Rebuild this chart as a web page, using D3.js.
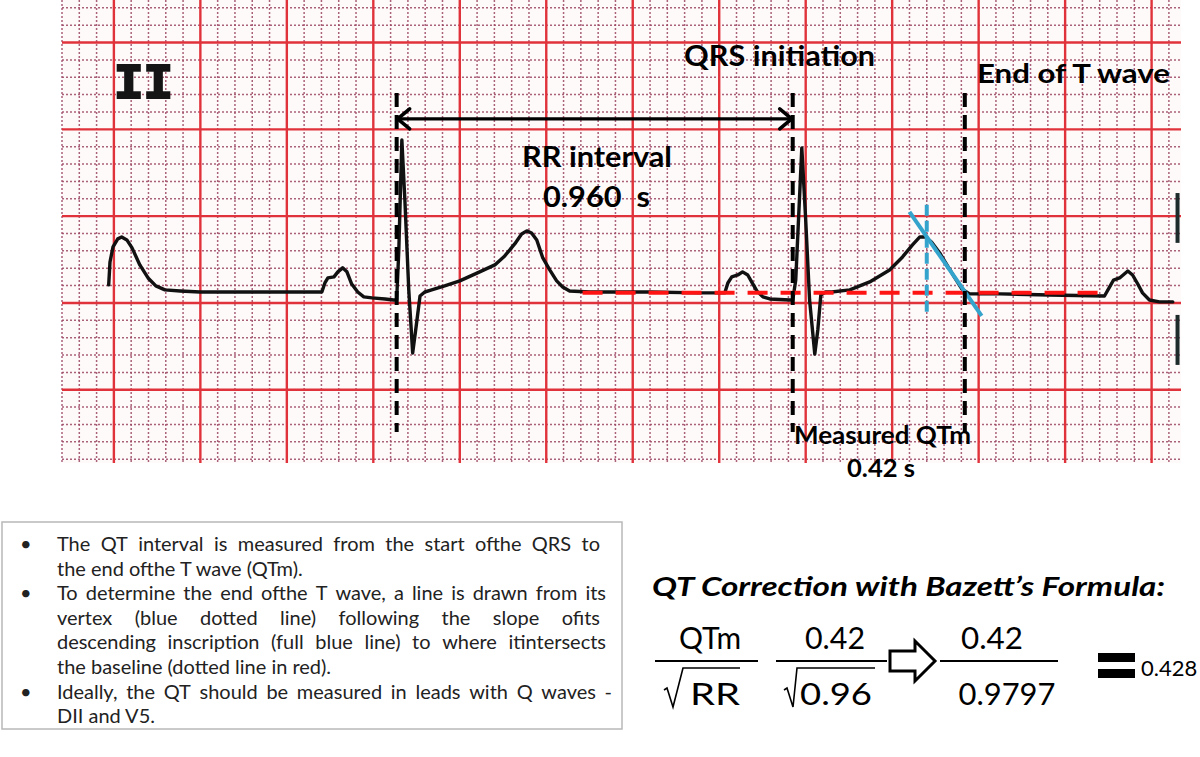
<!DOCTYPE html>
<html><head><meta charset="utf-8">
<script src="https://cdn.jsdelivr.net/npm/d3@7"></script>
<style>body{margin:0;background:#fff;} svg{display:block;}</style>
</head><body>
<svg id="chart" width="1200" height="757"></svg>
<script>
// ---------- DATA (time in seconds, amplitude in mV) ----------
const timeDomain = [-0.12, 2.468];
const mvDomain = [-0.922, 1.745];
const ecgTime = [-0.012,-0.009,-0.002,0.009,0.018,0.030,0.042,0.060,0.079,0.097,0.118,0.153,0.199,0.314,0.430,0.481,0.488,0.495,0.509,0.518,0.529,0.539,0.550,0.564,0.578,0.597,0.627,0.647,
  0.654,0.659,0.666,0.673,0.682,0.691,0.698,0.708,0.719,0.735,
  0.765,0.800,0.846,0.881,0.904,0.927,0.943,0.955,0.966,0.978,0.992,1.008,1.024,1.038,1.054,1.101,1.239,1.355,1.413,1.420,1.429,1.443,1.454,1.466,1.475,1.487,1.501,1.517,1.563,
  1.570,1.577,1.591,1.600,1.609,1.621,1.628,1.635,1.646,1.660,
  1.702,1.748,1.794,1.824,1.847,1.864,1.877,1.891,1.910,1.928,1.945,1.961,1.979,2.049,2.164,2.291,2.303,2.312,2.326,2.345,2.356,2.368,2.379,2.395,2.418,2.449];
const ecgMv = [0.104,0.236,0.323,0.369,0.380,0.363,0.317,0.219,0.144,0.098,0.075,0.069,0.063,0.063,0.063,0.063,0.115,0.144,0.150,0.179,0.202,0.179,0.109,0.063,0.035,0.029,0.023,0.017,
  0.017,0.305,0.939,0.593,0.075,-0.288,-0.156,0.040,0.063,0.075,
  0.098,0.127,0.179,0.219,0.271,0.340,0.397,0.415,0.403,0.363,0.259,0.190,0.127,0.092,0.069,0.063,0.063,0.058,0.058,0.115,0.150,0.161,0.179,0.161,0.121,0.069,0.035,0.023,0.017,
  0.017,0.132,0.893,0.478,0.017,-0.294,-0.156,0.046,0.063,0.063,
  0.075,0.121,0.190,0.265,0.334,0.380,0.380,0.351,0.288,0.213,0.144,0.081,0.052,0.052,0.046,0.040,0.092,0.132,0.144,0.184,0.161,0.109,0.058,0.017,0.006,0.006];

const qrsOnsetTimes = [0.654, 1.570];   // RR interval = 0.960 s
const tWaveEndTime = 1.968;            // QTm = 0.42 s
const markerMvSpan = [1.210, -0.743];
const arrowMv = 1.060;
const baselineMv = 0.058;
const baselineSpan = [1.084, 2.303];
const tApexTime = 1.880;
const tApexMvSpan = [0.565, -0.052];
const tangentTime = [1.840, 2.007];
const tangentMv = [0.524, -0.075];
const calibTime = 2.460;
const calibMv = [[0.633, 0.346], [-0.069, -0.357]];

const leadLabel = "II";
const annotationLabels = ["QRS initiation", "End of T wave", "RR interval", "0.960  s", "Measured QTm", "0.42 s"];
const bulletLines = [
  ["The QT interval is measured from the start ofthe QRS to", true, true],
  ["the end ofthe T wave (QTm).", false, false],
  ["To determine the end ofthe T wave, a line is drawn from its", true, true],
  ["vertex (blue dotted line) following the slope ofits", false, true],
  ["descending inscription (full blue line) to where itintersects", false, true],
  ["the baseline (dotted line in red).", false, false],
  ["Ideally, the QT should be measured in leads with Q waves -", true, true],
  ["DII and V5.", false, false]
];
const formulaTitle = "QT Correction with Bazett\u2019s Formula:";
const formulaNumerators = ["QTm", "0.42", "0.42"];
const formulaDenominators = ["RR", "0.96", "0.9797"];
const formulaResult = "0.428";

// ---------- DRAW ----------
const svg = d3.select("#chart");
const x = d3.scaleLinear().domain(timeDomain).range([62, 1181]);
const y = d3.scaleLinear().domain(mvDomain).range([463, 0]);

// paper
svg.append("rect").attr("x", x(timeDomain[0])).attr("y", y(mvDomain[1]))
  .attr("width", x(timeDomain[1]) - x(timeDomain[0])).attr("height", y(mvDomain[0]) - y(mvDomain[1]))
  .attr("fill", "#fffafa");

const grid = svg.append("g");
const xMinor = d3.range(-3, 62).map(k => ({v: k * 0.04, major: k % 5 === 0}));
const yMinor = d3.range(-9, 18).map(k => ({v: k * 0.1, major: k % 5 === 0}));
const minorColor = "#9c4864";
grid.selectAll(".vm").data(xMinor.filter(d => !d.major)).join("line")
  .attr("x1", d => x(d.v)).attr("x2", d => x(d.v)).attr("y1", y(mvDomain[1])).attr("y2", y(mvDomain[0]))
  .attr("stroke", minorColor).attr("stroke-width", 1.5).attr("stroke-dasharray", "2,2").attr("opacity", 0.85);
grid.selectAll(".hm").data(yMinor.filter(d => !d.major)).join("line")
  .attr("y1", d => y(d.v)).attr("y2", d => y(d.v)).attr("x1", x(timeDomain[0])).attr("x2", x(timeDomain[1]))
  .attr("stroke", minorColor).attr("stroke-width", 1.5).attr("stroke-dasharray", "2,2").attr("opacity", 0.85);
grid.selectAll(".vM").data(xMinor.filter(d => d.major)).join("line")
  .attr("x1", d => x(d.v)).attr("x2", d => x(d.v)).attr("y1", y(mvDomain[1])).attr("y2", y(mvDomain[0]))
  .attr("stroke", "#e0323a").attr("stroke-width", 2.4);
grid.selectAll(".hM").data(yMinor.filter(d => d.major)).join("line")
  .attr("y1", d => y(d.v)).attr("y2", d => y(d.v)).attr("x1", x(timeDomain[0])).attr("x2", x(timeDomain[1]))
  .attr("stroke", "#e0323a").attr("stroke-width", 2.4);

// lead label
svg.append("text").attr("x", 114).attr("y", 98).text(leadLabel)
  .attr("font-family", "Liberation Mono, DejaVu Sans Mono, monospace").attr("font-weight", "bold")
  .attr("font-size", 50).attr("textLength", 59).attr("lengthAdjust", "spacingAndGlyphs")
  .attr("fill", "#151515").attr("stroke", "#151515").attr("stroke-width", 2.2);

// calibration marks on right edge
calibMv.forEach(s => svg.append("line").attr("x1", x(calibTime)).attr("x2", x(calibTime))
  .attr("y1", y(s[0])).attr("y2", y(s[1])).attr("stroke", "#1d2b2b").attr("stroke-width", 4));

// ECG trace
const pts = ecgTime.map((t, i) => [t, ecgMv[i]]);
svg.append("path").datum(pts)
  .attr("d", d3.line().x(d => x(d[0])).y(d => y(d[1])))
  .attr("fill", "none").attr("stroke", "#111").attr("stroke-width", 3.4)
  .attr("stroke-linejoin", "round").attr("stroke-linecap", "round");

// red baseline (dashed)
svg.append("line").attr("x1", x(baselineSpan[0])).attr("x2", x(baselineSpan[1]))
  .attr("y1", y(baselineMv)).attr("y2", y(baselineMv))
  .attr("stroke", "#ff1414").attr("stroke-width", 4).attr("stroke-dasharray", "20,13");

// blue construction lines
svg.append("line").attr("x1", x(tApexTime)).attr("x2", x(tApexTime))
  .attr("y1", y(tApexMvSpan[0])).attr("y2", y(tApexMvSpan[1]))
  .attr("stroke", "#35a4cc").attr("stroke-width", 4).attr("stroke-dasharray", "11,5");
svg.append("line").attr("x1", x(tangentTime[0])).attr("x2", x(tangentTime[1]))
  .attr("y1", y(tangentMv[0])).attr("y2", y(tangentMv[1]))
  .attr("stroke", "#35a4cc").attr("stroke-width", 4);

// vertical black dashed markers
[...qrsOnsetTimes, tWaveEndTime].forEach(t => svg.append("line")
  .attr("x1", x(t)).attr("x2", x(t)).attr("y1", y(markerMvSpan[0])).attr("y2", y(markerMvSpan[1]))
  .attr("stroke", "#000").attr("stroke-width", 4).attr("stroke-dasharray", "14,8"));

// RR double arrow
const ax1 = x(qrsOnsetTimes[0]) + 1, ax2 = x(qrsOnsetTimes[1]) - 1, ay = y(arrowMv);
svg.append("line").attr("x1", ax1).attr("x2", ax2).attr("y1", ay).attr("y2", ay)
  .attr("stroke", "#000").attr("stroke-width", 3.4);
[[ax1, 1], [ax2, -1]].forEach(([ax, dir]) => svg.append("path")
  .attr("d", `M${ax + 12 * dir},${ay - 10}L${ax},${ay}L${ax + 12 * dir},${ay + 10}`)
  .attr("fill", "none").attr("stroke", "#000").attr("stroke-width", 3.6)
  .attr("stroke-linejoin", "round").attr("stroke-linecap", "round"));

// annotation labels
const labelPos = [[684, 66, 191, 28], [977, 83, 193, 26], [522, 167, 150, 28], [543, 207, 107, 28], [794, 444, 177, 24], [847, 477, 68, 24]];
annotationLabels.forEach((s, i) => {
  const p = labelPos[i];
  svg.append("text").attr("x", p[0]).attr("y", p[1]).text(s)
    .attr("font-family", "Lato, 'Open Sans', sans-serif").attr("font-weight", "bold")
    .attr("font-size", p[3]).attr("fill", "#000")
    .attr("textLength", p[2]).attr("lengthAdjust", "spacingAndGlyphs")
    .style("white-space", "pre");
});

// ---------- text box ----------
svg.append("rect").attr("x", 2).attr("y", 522).attr("width", 620).attr("height", 207)
  .attr("fill", "#fff").attr("stroke", "#b8b8b8").attr("stroke-width", 1.5);
const rightEdges = [600, 0, 606, 600, 606, 0, 612, 0];
const tb = svg.append("g").attr("font-family", "Lato, 'Open Sans', sans-serif").attr("fill", "#222");
// size font so the unjustified second line has the width seen in the picture
const probe = tb.append("text").attr("font-size", 20).text(bulletLines[1][0]);
const fs = Math.min(21, 20 * 246 / probe.node().getComputedTextLength());
probe.remove();
tb.attr("font-size", fs);
bulletLines.forEach((ln, i) => {
  const yy = 551 + i * 24.6;
  if (ln[1]) tb.append("text").attr("x", 20).attr("y", yy).text("\u2022");
  if (!ln[2]) { tb.append("text").attr("x", 57).attr("y", yy).text(ln[0]); return; }
  const words = ln[0].split(" ");
  const els = words.map(w => tb.append("text").attr("y", yy).text(w));
  const widths = els.map(e => e.node().getComputedTextLength());
  const total = d3.sum(widths);
  let gap = (rightEdges[i] - 57 - total) / (words.length - 1);
  let sc = 1;
  if (gap < 3) { sc = (rightEdges[i] - 57 - 3 * (words.length - 1)) / total; gap = 3; }
  let xx = 57;
  els.forEach((e, k) => {
    e.attr("x", xx);
    if (sc < 1) e.attr("textLength", widths[k] * sc).attr("lengthAdjust", "spacingAndGlyphs");
    xx += widths[k] * sc + gap;
  });
});

// ---------- formula ----------
const fg = svg.append("g").attr("font-family", "Lato, 'Open Sans', sans-serif").attr("fill", "#000");
fg.append("text").attr("x", 652).attr("y", 596).text(formulaTitle)
  .attr("font-weight", "bold").attr("font-style", "italic").attr("font-size", 26)
  .attr("textLength", 513).attr("lengthAdjust", "spacingAndGlyphs");
const fracs = [
  {bar: [655, 758], num: [710, 62], den: [715, 50], rad: [664, 683, 740]},
  {bar: [776, 887], num: [835, 60], den: [836, 72], rad: [784, 797, 875]},
  {bar: [940, 1058], num: [992, 62], den: [1007, 97], rad: null}
];
fracs.forEach((f, i) => {
  fg.append("line").attr("x1", f.bar[0]).attr("x2", f.bar[1]).attr("y1", 661).attr("y2", 661)
    .attr("stroke", "#000").attr("stroke-width", 1.8);
  fg.append("text").attr("x", f.num[0]).attr("y", 649).attr("text-anchor", "middle").text(formulaNumerators[i])
    .attr("font-size", 31).attr("textLength", f.num[1]).attr("lengthAdjust", "spacingAndGlyphs");
  fg.append("text").attr("x", f.den[0]).attr("y", 705).attr("text-anchor", "middle").text(formulaDenominators[i])
    .attr("font-size", 31).attr("textLength", f.den[1]).attr("lengthAdjust", "spacingAndGlyphs");
  if (f.rad) {
    const [r0, r1, r2] = f.rad;
    fg.append("path").attr("d", `M${r0},${690}L${r0 + 3},${688}L${r0 + 9},${707}L${r1},${668}L${r2},${668}`)
      .attr("fill", "none").attr("stroke", "#000").attr("stroke-width", 1.6);
  }
});
// hollow arrow
fg.append("path").attr("d", "M890,651L915,651L915,641L935,661L915,681L915,671L890,671Z")
  .attr("fill", "#fff").attr("stroke", "#000").attr("stroke-width", 3).attr("stroke-linejoin", "miter");
// equals sign
fg.append("rect").attr("x", 1098).attr("y", 653).attr("width", 37).attr("height", 9).attr("fill", "#000");
fg.append("rect").attr("x", 1098).attr("y", 669).attr("width", 37).attr("height", 9).attr("fill", "#000");
fg.append("text").attr("x", 1141).attr("y", 676).text(formulaResult).attr("font-size", 22);
</script>
</body></html>
